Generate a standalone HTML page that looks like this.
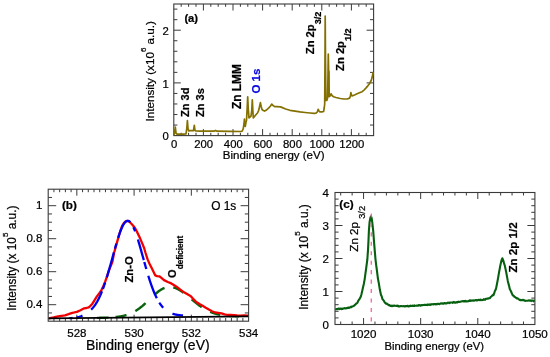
<!DOCTYPE html>
<html><head><meta charset="utf-8"><title>XPS spectra</title>
<style>
html,body{margin:0;padding:0;background:#fff;}
svg{display:block;font-family:"Liberation Sans",sans-serif;}
text{stroke:#000;stroke-width:0.22px;paint-order:stroke;}
</style></head><body>
<svg width="550" height="357" viewBox="0 0 550 357">
<rect width="550" height="357" fill="#fff"/>
<rect x="173.80" y="4.00" width="199.80" height="131.60" fill="none" stroke="#3a3a3a" stroke-width="1.1"/>
<text x="174.10" y="147.80" font-size="11.3" text-anchor="middle" font-weight="normal" fill="#000" >0</text>
<line x1="181.20" y1="135.60" x2="181.20" y2="132.80" stroke="#3a3a3a" stroke-width="1" />
<line x1="181.20" y1="4.00" x2="181.20" y2="6.80" stroke="#3a3a3a" stroke-width="1" />
<line x1="188.60" y1="135.60" x2="188.60" y2="132.80" stroke="#3a3a3a" stroke-width="1" />
<line x1="188.60" y1="4.00" x2="188.60" y2="6.80" stroke="#3a3a3a" stroke-width="1" />
<line x1="196.00" y1="135.60" x2="196.00" y2="132.80" stroke="#3a3a3a" stroke-width="1" />
<line x1="196.00" y1="4.00" x2="196.00" y2="6.80" stroke="#3a3a3a" stroke-width="1" />
<line x1="203.40" y1="135.60" x2="203.40" y2="129.10" stroke="#3a3a3a" stroke-width="1" />
<line x1="203.40" y1="4.00" x2="203.40" y2="10.50" stroke="#3a3a3a" stroke-width="1" />
<text x="203.70" y="147.80" font-size="11.3" text-anchor="middle" font-weight="normal" fill="#000" >200</text>
<line x1="210.80" y1="135.60" x2="210.80" y2="132.80" stroke="#3a3a3a" stroke-width="1" />
<line x1="210.80" y1="4.00" x2="210.80" y2="6.80" stroke="#3a3a3a" stroke-width="1" />
<line x1="218.20" y1="135.60" x2="218.20" y2="132.80" stroke="#3a3a3a" stroke-width="1" />
<line x1="218.20" y1="4.00" x2="218.20" y2="6.80" stroke="#3a3a3a" stroke-width="1" />
<line x1="225.60" y1="135.60" x2="225.60" y2="132.80" stroke="#3a3a3a" stroke-width="1" />
<line x1="225.60" y1="4.00" x2="225.60" y2="6.80" stroke="#3a3a3a" stroke-width="1" />
<line x1="233.00" y1="135.60" x2="233.00" y2="129.10" stroke="#3a3a3a" stroke-width="1" />
<line x1="233.00" y1="4.00" x2="233.00" y2="10.50" stroke="#3a3a3a" stroke-width="1" />
<text x="233.30" y="147.80" font-size="11.3" text-anchor="middle" font-weight="normal" fill="#000" >400</text>
<line x1="240.40" y1="135.60" x2="240.40" y2="132.80" stroke="#3a3a3a" stroke-width="1" />
<line x1="240.40" y1="4.00" x2="240.40" y2="6.80" stroke="#3a3a3a" stroke-width="1" />
<line x1="247.80" y1="135.60" x2="247.80" y2="132.80" stroke="#3a3a3a" stroke-width="1" />
<line x1="247.80" y1="4.00" x2="247.80" y2="6.80" stroke="#3a3a3a" stroke-width="1" />
<line x1="255.20" y1="135.60" x2="255.20" y2="132.80" stroke="#3a3a3a" stroke-width="1" />
<line x1="255.20" y1="4.00" x2="255.20" y2="6.80" stroke="#3a3a3a" stroke-width="1" />
<line x1="262.60" y1="135.60" x2="262.60" y2="129.10" stroke="#3a3a3a" stroke-width="1" />
<line x1="262.60" y1="4.00" x2="262.60" y2="10.50" stroke="#3a3a3a" stroke-width="1" />
<text x="262.90" y="147.80" font-size="11.3" text-anchor="middle" font-weight="normal" fill="#000" >600</text>
<line x1="270.00" y1="135.60" x2="270.00" y2="132.80" stroke="#3a3a3a" stroke-width="1" />
<line x1="270.00" y1="4.00" x2="270.00" y2="6.80" stroke="#3a3a3a" stroke-width="1" />
<line x1="277.40" y1="135.60" x2="277.40" y2="132.80" stroke="#3a3a3a" stroke-width="1" />
<line x1="277.40" y1="4.00" x2="277.40" y2="6.80" stroke="#3a3a3a" stroke-width="1" />
<line x1="284.80" y1="135.60" x2="284.80" y2="132.80" stroke="#3a3a3a" stroke-width="1" />
<line x1="284.80" y1="4.00" x2="284.80" y2="6.80" stroke="#3a3a3a" stroke-width="1" />
<line x1="292.20" y1="135.60" x2="292.20" y2="129.10" stroke="#3a3a3a" stroke-width="1" />
<line x1="292.20" y1="4.00" x2="292.20" y2="10.50" stroke="#3a3a3a" stroke-width="1" />
<text x="292.50" y="147.80" font-size="11.3" text-anchor="middle" font-weight="normal" fill="#000" >800</text>
<line x1="299.60" y1="135.60" x2="299.60" y2="132.80" stroke="#3a3a3a" stroke-width="1" />
<line x1="299.60" y1="4.00" x2="299.60" y2="6.80" stroke="#3a3a3a" stroke-width="1" />
<line x1="307.00" y1="135.60" x2="307.00" y2="132.80" stroke="#3a3a3a" stroke-width="1" />
<line x1="307.00" y1="4.00" x2="307.00" y2="6.80" stroke="#3a3a3a" stroke-width="1" />
<line x1="314.40" y1="135.60" x2="314.40" y2="132.80" stroke="#3a3a3a" stroke-width="1" />
<line x1="314.40" y1="4.00" x2="314.40" y2="6.80" stroke="#3a3a3a" stroke-width="1" />
<line x1="321.80" y1="135.60" x2="321.80" y2="129.10" stroke="#3a3a3a" stroke-width="1" />
<line x1="321.80" y1="4.00" x2="321.80" y2="10.50" stroke="#3a3a3a" stroke-width="1" />
<text x="322.10" y="147.80" font-size="11.3" text-anchor="middle" font-weight="normal" fill="#000" >1000</text>
<line x1="329.20" y1="135.60" x2="329.20" y2="132.80" stroke="#3a3a3a" stroke-width="1" />
<line x1="329.20" y1="4.00" x2="329.20" y2="6.80" stroke="#3a3a3a" stroke-width="1" />
<line x1="336.60" y1="135.60" x2="336.60" y2="132.80" stroke="#3a3a3a" stroke-width="1" />
<line x1="336.60" y1="4.00" x2="336.60" y2="6.80" stroke="#3a3a3a" stroke-width="1" />
<line x1="344.00" y1="135.60" x2="344.00" y2="132.80" stroke="#3a3a3a" stroke-width="1" />
<line x1="344.00" y1="4.00" x2="344.00" y2="6.80" stroke="#3a3a3a" stroke-width="1" />
<line x1="351.40" y1="135.60" x2="351.40" y2="129.10" stroke="#3a3a3a" stroke-width="1" />
<line x1="351.40" y1="4.00" x2="351.40" y2="10.50" stroke="#3a3a3a" stroke-width="1" />
<text x="351.70" y="147.80" font-size="11.3" text-anchor="middle" font-weight="normal" fill="#000" >1200</text>
<line x1="358.80" y1="135.60" x2="358.80" y2="132.80" stroke="#3a3a3a" stroke-width="1" />
<line x1="358.80" y1="4.00" x2="358.80" y2="6.80" stroke="#3a3a3a" stroke-width="1" />
<line x1="366.20" y1="135.60" x2="366.20" y2="132.80" stroke="#3a3a3a" stroke-width="1" />
<line x1="366.20" y1="4.00" x2="366.20" y2="6.80" stroke="#3a3a3a" stroke-width="1" />
<text x="168.80" y="140.20" font-size="11.3" text-anchor="end" font-weight="normal" fill="#000" >0</text>
<line x1="173.80" y1="125.06" x2="177.40" y2="125.06" stroke="#3a3a3a" stroke-width="1" />
<line x1="373.60" y1="125.06" x2="370.00" y2="125.06" stroke="#3a3a3a" stroke-width="1" />
<line x1="173.80" y1="114.52" x2="177.40" y2="114.52" stroke="#3a3a3a" stroke-width="1" />
<line x1="373.60" y1="114.52" x2="370.00" y2="114.52" stroke="#3a3a3a" stroke-width="1" />
<line x1="173.80" y1="103.98" x2="177.40" y2="103.98" stroke="#3a3a3a" stroke-width="1" />
<line x1="373.60" y1="103.98" x2="370.00" y2="103.98" stroke="#3a3a3a" stroke-width="1" />
<line x1="173.80" y1="93.44" x2="177.40" y2="93.44" stroke="#3a3a3a" stroke-width="1" />
<line x1="373.60" y1="93.44" x2="370.00" y2="93.44" stroke="#3a3a3a" stroke-width="1" />
<line x1="173.80" y1="82.90" x2="180.80" y2="82.90" stroke="#3a3a3a" stroke-width="1" />
<line x1="373.60" y1="82.90" x2="366.60" y2="82.90" stroke="#3a3a3a" stroke-width="1" />
<text x="168.80" y="87.50" font-size="11.3" text-anchor="end" font-weight="normal" fill="#000" >1</text>
<line x1="173.80" y1="72.36" x2="177.40" y2="72.36" stroke="#3a3a3a" stroke-width="1" />
<line x1="373.60" y1="72.36" x2="370.00" y2="72.36" stroke="#3a3a3a" stroke-width="1" />
<line x1="173.80" y1="61.82" x2="177.40" y2="61.82" stroke="#3a3a3a" stroke-width="1" />
<line x1="373.60" y1="61.82" x2="370.00" y2="61.82" stroke="#3a3a3a" stroke-width="1" />
<line x1="173.80" y1="51.28" x2="177.40" y2="51.28" stroke="#3a3a3a" stroke-width="1" />
<line x1="373.60" y1="51.28" x2="370.00" y2="51.28" stroke="#3a3a3a" stroke-width="1" />
<line x1="173.80" y1="40.74" x2="177.40" y2="40.74" stroke="#3a3a3a" stroke-width="1" />
<line x1="373.60" y1="40.74" x2="370.00" y2="40.74" stroke="#3a3a3a" stroke-width="1" />
<line x1="173.80" y1="30.20" x2="180.80" y2="30.20" stroke="#3a3a3a" stroke-width="1" />
<line x1="373.60" y1="30.20" x2="366.60" y2="30.20" stroke="#3a3a3a" stroke-width="1" />
<text x="168.80" y="34.80" font-size="11.3" text-anchor="end" font-weight="normal" fill="#000" >2</text>
<line x1="173.80" y1="19.66" x2="177.40" y2="19.66" stroke="#3a3a3a" stroke-width="1" />
<line x1="373.60" y1="19.66" x2="370.00" y2="19.66" stroke="#3a3a3a" stroke-width="1" />
<line x1="173.80" y1="9.12" x2="177.40" y2="9.12" stroke="#3a3a3a" stroke-width="1" />
<line x1="373.60" y1="9.12" x2="370.00" y2="9.12" stroke="#3a3a3a" stroke-width="1" />
<text x="273.70" y="158.50" font-size="11.5" text-anchor="middle" font-weight="normal" fill="#000" >Binding energy (eV)</text>
<text transform="translate(153.6,121.6) rotate(-90)" font-size="11.7" fill="#000">Intensity (x10<tspan dy="-8" font-size="8">6</tspan><tspan dy="8"> a.u.)</tspan></text>
<text x="184.40" y="22.30" font-size="11.2" text-anchor="start" font-weight="bold" fill="#000" >(a)</text>
<path d="M173.70,135.20 L174.50,133.50 L175.30,127.20 L176.00,133.00 L177.00,134.20 L180.00,134.10 L183.00,134.20 L186.00,133.80 L186.80,128.50 L187.40,120.50 L188.00,128.50 L188.80,130.90 L190.00,130.60 L193.50,130.70 L194.30,125.30 L195.00,130.50 L196.00,131.00 L200.00,131.10 L210.00,131.20 L214.00,131.20 L215.50,130.40 L217.00,131.20 L230.00,131.40 L241.00,131.50 L242.30,131.00 L243.20,128.80 L244.00,124.00 L244.40,119.00 L245.00,124.00 L245.30,126.30 L246.00,122.00 L246.50,120.40 L247.20,108.00 L247.70,96.80 L248.20,108.00 L249.00,117.90 L250.00,117.00 L251.00,116.20 L251.80,110.00 L252.30,99.90 L252.80,110.00 L253.30,117.90 L254.50,116.50 L256.10,114.50 L257.50,113.00 L258.70,110.30 L259.70,106.00 L260.40,102.70 L261.20,106.50 L262.00,109.50 L263.30,110.50 L264.60,111.10 L266.50,110.00 L268.80,107.80 L270.50,106.00 L271.80,104.10 L273.00,105.50 L274.70,106.60 L277.00,106.60 L280.60,106.90 L285.60,109.00 L290.00,110.30 L295.00,111.10 L300.00,111.90 L305.00,112.50 L310.10,113.00 L314.00,113.30 L316.00,113.20 L317.30,112.00 L318.20,109.40 L319.00,111.00 L319.90,111.90 L322.00,111.80 L323.60,111.50 L324.20,108.00 L324.70,104.00 L325.00,60.00 L325.20,16.00 L325.50,60.00 L325.90,100.50 L326.80,100.50 L327.60,98.00 L328.00,75.00 L328.30,54.20 L328.60,70.00 L329.00,72.00 L329.20,96.60 L330.00,96.00 L331.00,93.80 L332.00,95.50 L333.60,96.80 L336.00,97.50 L340.30,98.50 L344.00,99.00 L347.00,99.00 L349.60,98.10 L350.40,96.00 L350.90,92.60 L351.50,95.50 L352.10,95.90 L354.50,95.00 L357.10,93.80 L359.50,92.80 L362.10,91.70 L364.30,89.80 L366.30,87.60 L368.00,85.60 L369.70,83.40 L371.40,80.00 L372.40,76.00 L373.20,72.30" fill="none" stroke="#847000" stroke-width="1.7" stroke-linejoin="round" stroke-linecap="butt" />
<text transform="translate(188.80,116.90) rotate(-90)" font-size="11" font-weight="bold" fill="#000">Zn 3d</text>
<text transform="translate(204.10,116.90) rotate(-90)" font-size="11" font-weight="bold" fill="#000">Zn 3s</text>
<text transform="translate(241.00,109.00) rotate(-90)" font-size="11.9" font-weight="bold" fill="#000">Zn LMM</text>
<text transform="translate(259.80,93.60) rotate(-90)" font-size="11.5" font-weight="bold" fill="#0808e0" style="stroke:#0808e0">O 1s</text>
<text transform="translate(314.40,54.20) rotate(-90)" font-size="11.2" font-weight="bold" fill="#000">Zn 2p<tspan dy="6.8" font-size="9.2">3/2</tspan></text>
<text transform="translate(344.00,70.90) rotate(-90)" font-size="11.2" font-weight="bold" fill="#000">Zn 2p<tspan dy="7" font-size="9.2">1/2</tspan></text>
<line x1="53.93" y1="189.20" x2="53.93" y2="192.20" stroke="#3a3a3a" stroke-width="1" />
<line x1="53.93" y1="321.20" x2="53.93" y2="318.00" stroke="#3a3a3a" stroke-width="1" />
<line x1="59.65" y1="189.20" x2="59.65" y2="192.20" stroke="#3a3a3a" stroke-width="1" />
<line x1="59.65" y1="321.20" x2="59.65" y2="318.00" stroke="#3a3a3a" stroke-width="1" />
<line x1="65.38" y1="189.20" x2="65.38" y2="192.20" stroke="#3a3a3a" stroke-width="1" />
<line x1="65.38" y1="321.20" x2="65.38" y2="318.00" stroke="#3a3a3a" stroke-width="1" />
<line x1="71.10" y1="189.20" x2="71.10" y2="192.20" stroke="#3a3a3a" stroke-width="1" />
<line x1="71.10" y1="321.20" x2="71.10" y2="318.00" stroke="#3a3a3a" stroke-width="1" />
<line x1="76.83" y1="189.20" x2="76.83" y2="195.70" stroke="#3a3a3a" stroke-width="1" />
<line x1="76.83" y1="321.20" x2="76.83" y2="314.70" stroke="#3a3a3a" stroke-width="1" />
<text x="76.83" y="336.70" font-size="11.5" text-anchor="middle" font-weight="normal" fill="#000" >528</text>
<line x1="82.55" y1="189.20" x2="82.55" y2="192.20" stroke="#3a3a3a" stroke-width="1" />
<line x1="82.55" y1="321.20" x2="82.55" y2="318.00" stroke="#3a3a3a" stroke-width="1" />
<line x1="88.28" y1="189.20" x2="88.28" y2="192.20" stroke="#3a3a3a" stroke-width="1" />
<line x1="88.28" y1="321.20" x2="88.28" y2="318.00" stroke="#3a3a3a" stroke-width="1" />
<line x1="94.01" y1="189.20" x2="94.01" y2="192.20" stroke="#3a3a3a" stroke-width="1" />
<line x1="94.01" y1="321.20" x2="94.01" y2="318.00" stroke="#3a3a3a" stroke-width="1" />
<line x1="99.73" y1="189.20" x2="99.73" y2="192.20" stroke="#3a3a3a" stroke-width="1" />
<line x1="99.73" y1="321.20" x2="99.73" y2="318.00" stroke="#3a3a3a" stroke-width="1" />
<line x1="105.46" y1="189.20" x2="105.46" y2="192.20" stroke="#3a3a3a" stroke-width="1" />
<line x1="105.46" y1="321.20" x2="105.46" y2="318.00" stroke="#3a3a3a" stroke-width="1" />
<line x1="111.18" y1="189.20" x2="111.18" y2="192.20" stroke="#3a3a3a" stroke-width="1" />
<line x1="111.18" y1="321.20" x2="111.18" y2="318.00" stroke="#3a3a3a" stroke-width="1" />
<line x1="116.91" y1="189.20" x2="116.91" y2="192.20" stroke="#3a3a3a" stroke-width="1" />
<line x1="116.91" y1="321.20" x2="116.91" y2="318.00" stroke="#3a3a3a" stroke-width="1" />
<line x1="122.63" y1="189.20" x2="122.63" y2="192.20" stroke="#3a3a3a" stroke-width="1" />
<line x1="122.63" y1="321.20" x2="122.63" y2="318.00" stroke="#3a3a3a" stroke-width="1" />
<line x1="128.36" y1="189.20" x2="128.36" y2="192.20" stroke="#3a3a3a" stroke-width="1" />
<line x1="128.36" y1="321.20" x2="128.36" y2="318.00" stroke="#3a3a3a" stroke-width="1" />
<line x1="134.09" y1="189.20" x2="134.09" y2="195.70" stroke="#3a3a3a" stroke-width="1" />
<line x1="134.09" y1="321.20" x2="134.09" y2="314.70" stroke="#3a3a3a" stroke-width="1" />
<text x="134.09" y="336.70" font-size="11.5" text-anchor="middle" font-weight="normal" fill="#000" >530</text>
<line x1="139.81" y1="189.20" x2="139.81" y2="192.20" stroke="#3a3a3a" stroke-width="1" />
<line x1="139.81" y1="321.20" x2="139.81" y2="318.00" stroke="#3a3a3a" stroke-width="1" />
<line x1="145.54" y1="189.20" x2="145.54" y2="192.20" stroke="#3a3a3a" stroke-width="1" />
<line x1="145.54" y1="321.20" x2="145.54" y2="318.00" stroke="#3a3a3a" stroke-width="1" />
<line x1="151.26" y1="189.20" x2="151.26" y2="192.20" stroke="#3a3a3a" stroke-width="1" />
<line x1="151.26" y1="321.20" x2="151.26" y2="318.00" stroke="#3a3a3a" stroke-width="1" />
<line x1="156.99" y1="189.20" x2="156.99" y2="192.20" stroke="#3a3a3a" stroke-width="1" />
<line x1="156.99" y1="321.20" x2="156.99" y2="318.00" stroke="#3a3a3a" stroke-width="1" />
<line x1="162.71" y1="189.20" x2="162.71" y2="192.20" stroke="#3a3a3a" stroke-width="1" />
<line x1="162.71" y1="321.20" x2="162.71" y2="318.00" stroke="#3a3a3a" stroke-width="1" />
<line x1="168.44" y1="189.20" x2="168.44" y2="192.20" stroke="#3a3a3a" stroke-width="1" />
<line x1="168.44" y1="321.20" x2="168.44" y2="318.00" stroke="#3a3a3a" stroke-width="1" />
<line x1="174.17" y1="189.20" x2="174.17" y2="192.20" stroke="#3a3a3a" stroke-width="1" />
<line x1="174.17" y1="321.20" x2="174.17" y2="318.00" stroke="#3a3a3a" stroke-width="1" />
<line x1="179.89" y1="189.20" x2="179.89" y2="192.20" stroke="#3a3a3a" stroke-width="1" />
<line x1="179.89" y1="321.20" x2="179.89" y2="318.00" stroke="#3a3a3a" stroke-width="1" />
<line x1="185.62" y1="189.20" x2="185.62" y2="192.20" stroke="#3a3a3a" stroke-width="1" />
<line x1="185.62" y1="321.20" x2="185.62" y2="318.00" stroke="#3a3a3a" stroke-width="1" />
<line x1="191.34" y1="189.20" x2="191.34" y2="195.70" stroke="#3a3a3a" stroke-width="1" />
<line x1="191.34" y1="321.20" x2="191.34" y2="314.70" stroke="#3a3a3a" stroke-width="1" />
<text x="191.34" y="336.70" font-size="11.5" text-anchor="middle" font-weight="normal" fill="#000" >532</text>
<line x1="197.07" y1="189.20" x2="197.07" y2="192.20" stroke="#3a3a3a" stroke-width="1" />
<line x1="197.07" y1="321.20" x2="197.07" y2="318.00" stroke="#3a3a3a" stroke-width="1" />
<line x1="202.79" y1="189.20" x2="202.79" y2="192.20" stroke="#3a3a3a" stroke-width="1" />
<line x1="202.79" y1="321.20" x2="202.79" y2="318.00" stroke="#3a3a3a" stroke-width="1" />
<line x1="208.52" y1="189.20" x2="208.52" y2="192.20" stroke="#3a3a3a" stroke-width="1" />
<line x1="208.52" y1="321.20" x2="208.52" y2="318.00" stroke="#3a3a3a" stroke-width="1" />
<line x1="214.25" y1="189.20" x2="214.25" y2="192.20" stroke="#3a3a3a" stroke-width="1" />
<line x1="214.25" y1="321.20" x2="214.25" y2="318.00" stroke="#3a3a3a" stroke-width="1" />
<line x1="219.97" y1="189.20" x2="219.97" y2="192.20" stroke="#3a3a3a" stroke-width="1" />
<line x1="219.97" y1="321.20" x2="219.97" y2="318.00" stroke="#3a3a3a" stroke-width="1" />
<line x1="225.70" y1="189.20" x2="225.70" y2="192.20" stroke="#3a3a3a" stroke-width="1" />
<line x1="225.70" y1="321.20" x2="225.70" y2="318.00" stroke="#3a3a3a" stroke-width="1" />
<line x1="231.42" y1="189.20" x2="231.42" y2="192.20" stroke="#3a3a3a" stroke-width="1" />
<line x1="231.42" y1="321.20" x2="231.42" y2="318.00" stroke="#3a3a3a" stroke-width="1" />
<line x1="237.15" y1="189.20" x2="237.15" y2="192.20" stroke="#3a3a3a" stroke-width="1" />
<line x1="237.15" y1="321.20" x2="237.15" y2="318.00" stroke="#3a3a3a" stroke-width="1" />
<line x1="242.87" y1="189.20" x2="242.87" y2="192.20" stroke="#3a3a3a" stroke-width="1" />
<line x1="242.87" y1="321.20" x2="242.87" y2="318.00" stroke="#3a3a3a" stroke-width="1" />
<text x="248.60" y="336.70" font-size="11.5" text-anchor="middle" font-weight="normal" fill="#000" >534</text>
<line x1="48.20" y1="312.95" x2="52.00" y2="312.95" stroke="#3a3a3a" stroke-width="1" />
<line x1="248.60" y1="312.95" x2="244.80" y2="312.95" stroke="#3a3a3a" stroke-width="1" />
<line x1="48.20" y1="304.70" x2="56.20" y2="304.70" stroke="#3a3a3a" stroke-width="1" />
<line x1="248.60" y1="304.70" x2="240.60" y2="304.70" stroke="#3a3a3a" stroke-width="1" />
<text x="42.40" y="308.40" font-size="11.5" text-anchor="end" font-weight="normal" fill="#000" >0.4</text>
<line x1="48.20" y1="296.45" x2="52.00" y2="296.45" stroke="#3a3a3a" stroke-width="1" />
<line x1="248.60" y1="296.45" x2="244.80" y2="296.45" stroke="#3a3a3a" stroke-width="1" />
<line x1="48.20" y1="288.20" x2="52.00" y2="288.20" stroke="#3a3a3a" stroke-width="1" />
<line x1="248.60" y1="288.20" x2="244.80" y2="288.20" stroke="#3a3a3a" stroke-width="1" />
<line x1="48.20" y1="279.95" x2="52.00" y2="279.95" stroke="#3a3a3a" stroke-width="1" />
<line x1="248.60" y1="279.95" x2="244.80" y2="279.95" stroke="#3a3a3a" stroke-width="1" />
<line x1="48.20" y1="271.70" x2="56.20" y2="271.70" stroke="#3a3a3a" stroke-width="1" />
<line x1="248.60" y1="271.70" x2="240.60" y2="271.70" stroke="#3a3a3a" stroke-width="1" />
<text x="42.40" y="275.40" font-size="11.5" text-anchor="end" font-weight="normal" fill="#000" >0.6</text>
<line x1="48.20" y1="263.45" x2="52.00" y2="263.45" stroke="#3a3a3a" stroke-width="1" />
<line x1="248.60" y1="263.45" x2="244.80" y2="263.45" stroke="#3a3a3a" stroke-width="1" />
<line x1="48.20" y1="255.20" x2="52.00" y2="255.20" stroke="#3a3a3a" stroke-width="1" />
<line x1="248.60" y1="255.20" x2="244.80" y2="255.20" stroke="#3a3a3a" stroke-width="1" />
<line x1="48.20" y1="246.95" x2="52.00" y2="246.95" stroke="#3a3a3a" stroke-width="1" />
<line x1="248.60" y1="246.95" x2="244.80" y2="246.95" stroke="#3a3a3a" stroke-width="1" />
<line x1="48.20" y1="238.70" x2="56.20" y2="238.70" stroke="#3a3a3a" stroke-width="1" />
<line x1="248.60" y1="238.70" x2="240.60" y2="238.70" stroke="#3a3a3a" stroke-width="1" />
<text x="42.40" y="242.40" font-size="11.5" text-anchor="end" font-weight="normal" fill="#000" >0.8</text>
<line x1="48.20" y1="230.45" x2="52.00" y2="230.45" stroke="#3a3a3a" stroke-width="1" />
<line x1="248.60" y1="230.45" x2="244.80" y2="230.45" stroke="#3a3a3a" stroke-width="1" />
<line x1="48.20" y1="222.20" x2="52.00" y2="222.20" stroke="#3a3a3a" stroke-width="1" />
<line x1="248.60" y1="222.20" x2="244.80" y2="222.20" stroke="#3a3a3a" stroke-width="1" />
<line x1="48.20" y1="213.95" x2="52.00" y2="213.95" stroke="#3a3a3a" stroke-width="1" />
<line x1="248.60" y1="213.95" x2="244.80" y2="213.95" stroke="#3a3a3a" stroke-width="1" />
<line x1="48.20" y1="205.70" x2="56.20" y2="205.70" stroke="#3a3a3a" stroke-width="1" />
<line x1="248.60" y1="205.70" x2="240.60" y2="205.70" stroke="#3a3a3a" stroke-width="1" />
<text x="42.40" y="209.40" font-size="11.5" text-anchor="end" font-weight="normal" fill="#000" >1</text>
<line x1="48.20" y1="197.45" x2="52.00" y2="197.45" stroke="#3a3a3a" stroke-width="1" />
<line x1="248.60" y1="197.45" x2="244.80" y2="197.45" stroke="#3a3a3a" stroke-width="1" />
<text x="147.80" y="350.20" font-size="14" text-anchor="middle" font-weight="normal" fill="#000" >Binding energy (eV)</text>
<text transform="translate(15.7,310.8) rotate(-90)" font-size="11.85" fill="#000">Intensity (x 10<tspan dy="-7.5" font-size="8">5</tspan><tspan dy="7.5"> a.u.)</tspan></text>
<text x="61.90" y="208.80" font-size="11.7" text-anchor="start" font-weight="bold" fill="#000" >(b)</text>
<text x="211.20" y="209.60" font-size="11.9" text-anchor="start" font-weight="normal" fill="#000" >O 1s</text>
<path d="M97.00,317.86 L97.30,317.86 L97.61,317.85 L97.91,317.85 L98.21,317.84 L98.51,317.84 L98.82,317.83 L99.12,317.83 L99.42,317.82 L99.72,317.81 L100.03,317.81 L100.33,317.80 L100.63,317.80 L100.93,317.79 L101.24,317.78 L101.54,317.78 L101.84,317.77 L102.14,317.76 L102.45,317.76 L102.75,317.75 L103.05,317.74 L103.36,317.73 L103.66,317.72 L103.96,317.72 L104.26,317.71 L104.57,317.70 L104.87,317.69 L105.17,317.68 L105.47,317.67 L105.78,317.66 L106.08,317.65 L106.38,317.64 L106.68,317.63 L106.99,317.62 L107.29,317.61 L107.59,317.59 L107.89,317.58 L108.20,317.57 L108.50,317.55 M115.60,317.06 L115.90,317.03 L116.21,316.99 L116.51,316.96 L116.81,316.93 L117.11,316.89 L117.42,316.85 L117.72,316.81 L118.02,316.78 L118.32,316.73 L118.63,316.69 L118.93,316.65 L119.23,316.60 L119.54,316.56 L119.84,316.51 L120.14,316.46 L120.44,316.41 L120.75,316.35 L121.05,316.30 L121.35,316.24 L121.66,316.18 L121.96,316.12 L122.26,316.06 L122.56,316.00 L122.87,315.93 L123.17,315.87 L123.47,315.80 L123.78,315.73 L124.08,315.65 L124.38,315.58 L124.68,315.50 L124.99,315.42 L125.29,315.33 L125.59,315.25 L125.89,315.16 L126.20,315.07 L126.50,314.98 M135.30,311.06 L135.60,310.88 L135.91,310.70 L136.21,310.51 L136.51,310.32 L136.81,310.12 L137.12,309.92 L137.42,309.72 L137.72,309.52 L138.03,309.31 L138.33,309.10 L138.63,308.88 L138.94,308.66 L139.24,308.44 L139.54,308.22 L139.84,307.99 L140.15,307.76 L140.45,307.53 L140.75,307.29 L141.06,307.05 L141.36,306.81 L141.66,306.56 L141.96,306.31 L142.27,306.06 L142.57,305.81 L142.87,305.55 L143.18,305.30 L143.48,305.03 L143.78,304.77 L144.09,304.50 L144.39,304.24 L144.69,303.97 L144.99,303.69 L145.30,303.42 L145.60,303.14 M154.40,294.86 L154.71,294.58 L155.01,294.31 L155.32,294.04 L155.62,293.77 L155.93,293.50 L156.24,293.24 L156.54,292.98 L156.85,292.73 L157.15,292.47 L157.46,292.23 L157.77,291.98 L158.07,291.74 L158.38,291.51 L158.68,291.28 L158.99,291.05 L159.30,290.83 L159.60,290.61 L159.91,290.40 L160.22,290.19 L160.52,289.99 L160.83,289.79 L161.13,289.60 L161.44,289.42 L161.75,289.24 L162.05,289.06 L162.36,288.90 L162.66,288.73 L162.97,288.58 L163.28,288.43 L163.58,288.29 L163.89,288.15 L164.19,288.02 L164.50,287.90 M173.30,287.42 L173.61,287.50 L173.91,287.58 L174.22,287.67 L174.52,287.77 L174.83,287.87 L175.14,287.98 L175.44,288.09 L175.75,288.21 L176.05,288.33 L176.36,288.46 L176.67,288.59 L176.97,288.73 L177.28,288.88 L177.58,289.03 L177.89,289.18 L178.20,289.34 L178.50,289.50 L178.81,289.67 L179.12,289.84 L179.42,290.02 L179.73,290.20 L180.03,290.39 L180.34,290.58 L180.65,290.77 L180.95,290.97 L181.26,291.17 L181.56,291.38 L181.87,291.58 L182.18,291.80 L182.48,292.01 L182.79,292.23 L183.09,292.45 L183.40,292.67 M191.60,299.34 L191.91,299.60 L192.21,299.86 L192.52,300.11 L192.82,300.37 L193.13,300.63 L193.44,300.88 L193.74,301.13 L194.05,301.39 L194.35,301.64 L194.66,301.89 L194.97,302.14 L195.27,302.39 L195.58,302.64 L195.88,302.88 L196.19,303.13 L196.50,303.37 L196.80,303.61 L197.11,303.85 L197.42,304.08 L197.72,304.32 L198.03,304.55 L198.33,304.78 L198.64,305.01 L198.95,305.24 L199.25,305.46 L199.56,305.69 L199.86,305.91 L200.17,306.13 L200.48,306.34 L200.78,306.55 L201.09,306.77 L201.39,306.97 L201.70,307.18 M210.20,311.83 L210.50,311.96 L210.81,312.08 L211.11,312.20 L211.41,312.32 L211.72,312.44 L212.02,312.56 L212.32,312.67 L212.62,312.78 L212.93,312.88 L213.23,312.99 L213.53,313.09 L213.84,313.19 L214.14,313.29 L214.44,313.39 L214.75,313.48 L215.05,313.57 L215.35,313.66 L215.65,313.75 L215.96,313.83 L216.26,313.91 L216.56,313.99 L216.87,314.07 L217.17,314.15 L217.47,314.22 L217.78,314.29 L218.08,314.36 L218.38,314.43 L218.68,314.50 L218.99,314.56 L219.29,314.63 L219.59,314.69 L219.90,314.75 L220.20,314.81 M229.00,315.89 L229.30,315.91 L229.61,315.93 L229.91,315.95 L230.21,315.96 L230.52,315.98 L230.82,316.00 L231.12,316.02 L231.42,316.03 L231.73,316.05 L232.03,316.06 L232.33,316.07 L232.64,316.09 L232.94,316.10 L233.24,316.11 L233.55,316.12 L233.85,316.13 L234.15,316.14 L234.45,316.15 L234.76,316.16 L235.06,316.17 L235.36,316.18 L235.67,316.19 L235.97,316.20 L236.27,316.20 L236.58,316.21 L236.88,316.22 L237.18,316.22 L237.48,316.23 L237.79,316.23 L238.09,316.24 L238.39,316.24 L238.70,316.25 L239.00,316.25" fill="none" stroke="#0a640f" stroke-width="2.4" stroke-linejoin="round"/>
<path d="M48.80,318.30 L53.60,317.40 L58.20,316.40 L61.50,315.90 L65.00,315.40 L68.50,314.20 L72.30,312.80 L74.50,312.40 L76.90,311.90 L80.50,310.20 L84.20,308.30 L86.50,308.00 L88.70,307.40 L90.50,305.80 L92.40,303.70 L94.60,300.20 L96.90,296.40 L99.20,293.40 L101.50,290.10 L103.30,286.20 L105.10,281.90 L107.00,276.50 L108.80,270.90 L110.60,266.20 L112.40,261.80 L114.10,252.80 L116.40,244.50 L118.70,236.40 L120.50,230.50 L122.30,225.50 L123.70,223.30 L125.10,221.80 L126.40,221.10 L127.80,220.90 L129.50,221.70 L131.40,223.70 L133.20,225.70 L135.10,228.20 L137.30,232.40 L139.60,237.30 L141.90,242.60 L144.20,248.30 L145.40,252.50 L146.20,255.00 L147.60,259.40 L149.50,263.70 L151.70,268.10 L153.50,271.80 L155.30,275.40 L157.10,276.10 L159.30,276.30 L161.10,277.60 L164.00,280.10 L167.80,282.00 L171.30,283.40 L173.80,284.90 L176.20,286.40 L180.00,289.30 L184.00,292.30 L187.50,294.30 L190.90,296.20 L193.40,299.20 L196.30,302.00 L199.50,304.00 L202.60,305.80 L205.80,307.80 L208.90,309.60 L212.00,311.20 L215.20,312.50 L218.30,312.90 L221.50,313.30 L224.60,314.30 L227.80,315.00 L231.00,315.00 L234.00,315.20 L237.00,315.50 L240.40,315.60 L244.00,315.50 L248.30,315.60" fill="none" stroke="#f00000" stroke-width="2.3" stroke-linejoin="round" stroke-linecap="butt" />
<path d="M69.50,318.19 L69.80,318.17 L70.10,318.15 L70.40,318.12 L70.70,318.10 L71.00,318.08 L71.30,318.05 L71.60,318.03 L71.90,318.00 L72.20,317.98 L72.50,317.95 M76.50,317.47 L76.80,317.43 L77.10,317.38 L77.40,317.33 L77.70,317.28 L78.00,317.22 L78.30,317.17 L78.60,317.08 L78.90,316.98 L79.20,316.89 L79.50,316.79 L79.80,316.69 L80.10,316.58 L80.40,316.48 L80.70,316.37 L81.00,316.25 L81.30,316.14 L81.60,316.02 L81.90,315.89 L82.20,315.77 L82.50,315.64 M91.10,309.67 L91.40,309.37 L91.71,309.07 L92.01,308.75 L92.31,308.43 L92.61,308.09 L92.92,307.74 L93.22,307.39 L93.52,307.02 L93.82,306.64 L94.13,306.24 L94.43,305.84 L94.73,305.42 L95.04,304.99 L95.34,304.55 L95.64,304.09 L95.94,303.63 L96.25,303.14 L96.55,302.65 L96.85,302.14 L97.16,301.62 L97.46,301.08 L97.76,300.53 L98.06,299.97 L98.37,299.39 L98.67,298.79 L98.97,298.19 L99.28,297.56 L99.58,296.92 L99.88,296.27 L100.18,295.60 L100.49,294.92 L100.79,294.22 L101.09,293.51 L101.39,292.78 L101.70,292.04 L102.00,291.28 M102.90,288.95 L103.21,288.10 L103.53,287.24 L103.84,286.36 L104.16,285.46 L104.47,284.56 L104.79,283.63 L105.10,282.69 M106.80,277.38 L107.11,276.38 L107.42,275.36 L107.73,274.33 L108.03,273.30 L108.34,272.25 L108.65,271.19 L108.96,270.12 L109.27,269.05 L109.58,267.97 L109.89,266.88 L110.20,265.78 L110.50,264.68 L110.81,263.57 L111.12,262.46 L111.43,261.35 L111.74,260.23 L112.05,259.11 L112.36,257.98 L112.67,256.86 L112.97,255.74 L113.28,254.62 L113.59,253.50 L113.90,252.38 M114.90,248.80 L115.20,247.73 L115.50,246.68 L115.80,245.63 L116.10,244.59 L116.40,243.56 M118.10,237.97 L118.40,237.03 L118.70,236.11 L119.00,235.21 L119.30,234.33 L119.60,233.47 L119.90,232.63 L120.20,231.81 L120.50,231.01 L120.80,230.24 L121.10,229.50 L121.40,228.78 L121.70,228.08 L122.00,227.41 L122.30,226.78 L122.60,226.17 L122.90,225.59 L123.20,225.04 L123.50,224.52 L123.80,224.03 L124.10,223.58 L124.40,223.16 L124.70,222.78 L125.00,222.43 L125.30,222.11 L125.60,221.83 L125.90,221.58 L126.20,221.37 L126.50,221.20 L126.80,221.06 L127.10,220.96 L127.40,220.90 L127.70,220.88 L128.00,220.89 L128.30,220.94 L128.60,221.02 L128.90,221.15 L129.20,221.30 L129.50,221.50 L129.80,221.73 L130.10,222.00 L130.40,222.30 M133.40,227.16 L133.74,227.91 L134.08,228.69 L134.42,229.50 L134.76,230.35 L135.10,231.23 M137.90,239.48 L138.21,240.49 L138.52,241.52 L138.83,242.55 L139.14,243.60 L139.45,244.66 L139.76,245.74 L140.07,246.82 L140.38,247.91 L140.69,249.00 L141.01,250.11 L141.32,251.22 L141.63,252.33 L141.94,253.45 L142.25,254.57 L142.56,255.69 L142.87,256.81 L143.18,257.93 L143.49,259.06 L143.80,260.18 M144.30,261.97 L144.63,263.17 L144.97,264.36 L145.30,265.54 L145.63,266.71 L145.97,267.88 L146.30,269.04 M148.30,275.78 L148.60,276.76 L148.91,277.73 L149.21,278.69 L149.51,279.64 L149.82,280.58 L150.12,281.50 L150.43,282.41 L150.73,283.31 L151.03,284.19 L151.34,285.06 L151.64,285.92 L151.94,286.76 L152.25,287.59 L152.55,288.40 L152.85,289.20 L153.16,289.98 L153.46,290.75 L153.76,291.50 L154.07,292.24 L154.37,292.96 L154.68,293.67 L154.98,294.36 L155.28,295.04 L155.59,295.70 L155.89,296.35 L156.19,296.98 L156.50,297.60 L156.80,298.20 M159.30,302.62 L159.62,303.13 L159.95,303.62 L160.28,304.09 L160.60,304.55 L160.93,305.00 L161.25,305.43 L161.57,305.85 L161.90,306.25 L162.22,306.64 L162.55,307.02 L162.88,307.39 L163.20,307.74 M172.50,313.71 L172.80,313.81 L173.10,313.90 L173.40,313.99 L173.70,314.07 L174.00,314.15 L174.30,314.23 L174.60,314.31 L174.90,314.38 L175.20,314.45 L175.50,314.51 L175.80,314.58 L176.10,314.64 L176.40,314.70 L176.70,314.75 L177.00,314.80 L177.30,314.85 L177.60,314.90 L177.90,314.95 L178.20,314.99 L178.50,315.04 L178.80,315.08 L179.10,315.12 L179.40,315.15 L179.70,315.19 L180.00,315.22 L180.30,315.26 L180.60,315.29 L180.90,315.32 L181.20,315.35 L181.50,315.37 L181.80,315.40 L182.10,315.42 L182.40,315.45 L182.70,315.47 L183.00,315.49" fill="none" stroke="#0000f0" stroke-width="2.3" stroke-linejoin="round"/>
<path d="M48.20,318.40 L248.60,316.30" fill="none" stroke="#000" stroke-width="1.7" stroke-linejoin="round" stroke-linecap="butt" />
<rect x="48.20" y="189.20" width="200.40" height="132.00" fill="none" stroke="#3a3a3a" stroke-width="1.1"/>
<text transform="translate(132.60,282.60) rotate(-90)" font-size="11.4" font-weight="bold" fill="#000">Zn-O</text>
<text transform="translate(176.00,277.90) rotate(-90)" font-size="11" font-weight="bold" fill="#000">O<tspan dy="7" font-size="8.2">deficient</tspan></text>
<rect x="335.00" y="192.50" width="199.90" height="132.00" fill="none" stroke="#3a3a3a" stroke-width="1.1"/>
<line x1="340.71" y1="324.50" x2="340.71" y2="321.50" stroke="#3a3a3a" stroke-width="1" />
<line x1="340.71" y1="192.50" x2="340.71" y2="195.50" stroke="#3a3a3a" stroke-width="1" />
<line x1="352.13" y1="324.50" x2="352.13" y2="321.50" stroke="#3a3a3a" stroke-width="1" />
<line x1="352.13" y1="192.50" x2="352.13" y2="195.50" stroke="#3a3a3a" stroke-width="1" />
<line x1="363.56" y1="324.50" x2="363.56" y2="318.00" stroke="#3a3a3a" stroke-width="1" />
<line x1="363.56" y1="192.50" x2="363.56" y2="199.00" stroke="#3a3a3a" stroke-width="1" />
<text x="363.56" y="338.20" font-size="11.6" text-anchor="middle" font-weight="normal" fill="#000" >1020</text>
<line x1="374.98" y1="324.50" x2="374.98" y2="321.50" stroke="#3a3a3a" stroke-width="1" />
<line x1="374.98" y1="192.50" x2="374.98" y2="195.50" stroke="#3a3a3a" stroke-width="1" />
<line x1="386.40" y1="324.50" x2="386.40" y2="321.50" stroke="#3a3a3a" stroke-width="1" />
<line x1="386.40" y1="192.50" x2="386.40" y2="195.50" stroke="#3a3a3a" stroke-width="1" />
<line x1="397.83" y1="324.50" x2="397.83" y2="321.50" stroke="#3a3a3a" stroke-width="1" />
<line x1="397.83" y1="192.50" x2="397.83" y2="195.50" stroke="#3a3a3a" stroke-width="1" />
<line x1="409.25" y1="324.50" x2="409.25" y2="321.50" stroke="#3a3a3a" stroke-width="1" />
<line x1="409.25" y1="192.50" x2="409.25" y2="195.50" stroke="#3a3a3a" stroke-width="1" />
<line x1="420.67" y1="324.50" x2="420.67" y2="318.00" stroke="#3a3a3a" stroke-width="1" />
<line x1="420.67" y1="192.50" x2="420.67" y2="199.00" stroke="#3a3a3a" stroke-width="1" />
<text x="420.67" y="338.20" font-size="11.6" text-anchor="middle" font-weight="normal" fill="#000" >1030</text>
<line x1="432.09" y1="324.50" x2="432.09" y2="321.50" stroke="#3a3a3a" stroke-width="1" />
<line x1="432.09" y1="192.50" x2="432.09" y2="195.50" stroke="#3a3a3a" stroke-width="1" />
<line x1="443.52" y1="324.50" x2="443.52" y2="321.50" stroke="#3a3a3a" stroke-width="1" />
<line x1="443.52" y1="192.50" x2="443.52" y2="195.50" stroke="#3a3a3a" stroke-width="1" />
<line x1="454.94" y1="324.50" x2="454.94" y2="321.50" stroke="#3a3a3a" stroke-width="1" />
<line x1="454.94" y1="192.50" x2="454.94" y2="195.50" stroke="#3a3a3a" stroke-width="1" />
<line x1="466.36" y1="324.50" x2="466.36" y2="321.50" stroke="#3a3a3a" stroke-width="1" />
<line x1="466.36" y1="192.50" x2="466.36" y2="195.50" stroke="#3a3a3a" stroke-width="1" />
<line x1="477.79" y1="324.50" x2="477.79" y2="318.00" stroke="#3a3a3a" stroke-width="1" />
<line x1="477.79" y1="192.50" x2="477.79" y2="199.00" stroke="#3a3a3a" stroke-width="1" />
<text x="477.79" y="338.20" font-size="11.6" text-anchor="middle" font-weight="normal" fill="#000" >1040</text>
<line x1="489.21" y1="324.50" x2="489.21" y2="321.50" stroke="#3a3a3a" stroke-width="1" />
<line x1="489.21" y1="192.50" x2="489.21" y2="195.50" stroke="#3a3a3a" stroke-width="1" />
<line x1="500.63" y1="324.50" x2="500.63" y2="321.50" stroke="#3a3a3a" stroke-width="1" />
<line x1="500.63" y1="192.50" x2="500.63" y2="195.50" stroke="#3a3a3a" stroke-width="1" />
<line x1="512.05" y1="324.50" x2="512.05" y2="321.50" stroke="#3a3a3a" stroke-width="1" />
<line x1="512.05" y1="192.50" x2="512.05" y2="195.50" stroke="#3a3a3a" stroke-width="1" />
<line x1="523.48" y1="324.50" x2="523.48" y2="321.50" stroke="#3a3a3a" stroke-width="1" />
<line x1="523.48" y1="192.50" x2="523.48" y2="195.50" stroke="#3a3a3a" stroke-width="1" />
<text x="534.90" y="338.20" font-size="11.6" text-anchor="middle" font-weight="normal" fill="#000" >1050</text>
<text x="328.90" y="328.90" font-size="11.5" text-anchor="end" font-weight="normal" fill="#000" >0</text>
<line x1="335.00" y1="317.90" x2="338.60" y2="317.90" stroke="#3a3a3a" stroke-width="1" />
<line x1="534.90" y1="317.90" x2="531.30" y2="317.90" stroke="#3a3a3a" stroke-width="1" />
<line x1="335.00" y1="311.30" x2="338.60" y2="311.30" stroke="#3a3a3a" stroke-width="1" />
<line x1="534.90" y1="311.30" x2="531.30" y2="311.30" stroke="#3a3a3a" stroke-width="1" />
<line x1="335.00" y1="304.70" x2="338.60" y2="304.70" stroke="#3a3a3a" stroke-width="1" />
<line x1="534.90" y1="304.70" x2="531.30" y2="304.70" stroke="#3a3a3a" stroke-width="1" />
<line x1="335.00" y1="298.10" x2="338.60" y2="298.10" stroke="#3a3a3a" stroke-width="1" />
<line x1="534.90" y1="298.10" x2="531.30" y2="298.10" stroke="#3a3a3a" stroke-width="1" />
<line x1="335.00" y1="291.50" x2="342.50" y2="291.50" stroke="#3a3a3a" stroke-width="1" />
<line x1="534.90" y1="291.50" x2="527.40" y2="291.50" stroke="#3a3a3a" stroke-width="1" />
<text x="328.90" y="295.90" font-size="11.5" text-anchor="end" font-weight="normal" fill="#000" >1</text>
<line x1="335.00" y1="284.90" x2="338.60" y2="284.90" stroke="#3a3a3a" stroke-width="1" />
<line x1="534.90" y1="284.90" x2="531.30" y2="284.90" stroke="#3a3a3a" stroke-width="1" />
<line x1="335.00" y1="278.30" x2="338.60" y2="278.30" stroke="#3a3a3a" stroke-width="1" />
<line x1="534.90" y1="278.30" x2="531.30" y2="278.30" stroke="#3a3a3a" stroke-width="1" />
<line x1="335.00" y1="271.70" x2="338.60" y2="271.70" stroke="#3a3a3a" stroke-width="1" />
<line x1="534.90" y1="271.70" x2="531.30" y2="271.70" stroke="#3a3a3a" stroke-width="1" />
<line x1="335.00" y1="265.10" x2="338.60" y2="265.10" stroke="#3a3a3a" stroke-width="1" />
<line x1="534.90" y1="265.10" x2="531.30" y2="265.10" stroke="#3a3a3a" stroke-width="1" />
<line x1="335.00" y1="258.50" x2="342.50" y2="258.50" stroke="#3a3a3a" stroke-width="1" />
<line x1="534.90" y1="258.50" x2="527.40" y2="258.50" stroke="#3a3a3a" stroke-width="1" />
<text x="328.90" y="262.90" font-size="11.5" text-anchor="end" font-weight="normal" fill="#000" >2</text>
<line x1="335.00" y1="251.90" x2="338.60" y2="251.90" stroke="#3a3a3a" stroke-width="1" />
<line x1="534.90" y1="251.90" x2="531.30" y2="251.90" stroke="#3a3a3a" stroke-width="1" />
<line x1="335.00" y1="245.30" x2="338.60" y2="245.30" stroke="#3a3a3a" stroke-width="1" />
<line x1="534.90" y1="245.30" x2="531.30" y2="245.30" stroke="#3a3a3a" stroke-width="1" />
<line x1="335.00" y1="238.70" x2="338.60" y2="238.70" stroke="#3a3a3a" stroke-width="1" />
<line x1="534.90" y1="238.70" x2="531.30" y2="238.70" stroke="#3a3a3a" stroke-width="1" />
<line x1="335.00" y1="232.10" x2="338.60" y2="232.10" stroke="#3a3a3a" stroke-width="1" />
<line x1="534.90" y1="232.10" x2="531.30" y2="232.10" stroke="#3a3a3a" stroke-width="1" />
<line x1="335.00" y1="225.50" x2="342.50" y2="225.50" stroke="#3a3a3a" stroke-width="1" />
<line x1="534.90" y1="225.50" x2="527.40" y2="225.50" stroke="#3a3a3a" stroke-width="1" />
<text x="328.90" y="229.90" font-size="11.5" text-anchor="end" font-weight="normal" fill="#000" >3</text>
<line x1="335.00" y1="218.90" x2="338.60" y2="218.90" stroke="#3a3a3a" stroke-width="1" />
<line x1="534.90" y1="218.90" x2="531.30" y2="218.90" stroke="#3a3a3a" stroke-width="1" />
<line x1="335.00" y1="212.30" x2="338.60" y2="212.30" stroke="#3a3a3a" stroke-width="1" />
<line x1="534.90" y1="212.30" x2="531.30" y2="212.30" stroke="#3a3a3a" stroke-width="1" />
<line x1="335.00" y1="205.70" x2="338.60" y2="205.70" stroke="#3a3a3a" stroke-width="1" />
<line x1="534.90" y1="205.70" x2="531.30" y2="205.70" stroke="#3a3a3a" stroke-width="1" />
<line x1="335.00" y1="199.10" x2="338.60" y2="199.10" stroke="#3a3a3a" stroke-width="1" />
<line x1="534.90" y1="199.10" x2="531.30" y2="199.10" stroke="#3a3a3a" stroke-width="1" />
<text x="328.90" y="196.90" font-size="11.5" text-anchor="end" font-weight="normal" fill="#000" >4</text>
<text x="434.30" y="350.10" font-size="11.25" text-anchor="middle" font-weight="normal" fill="#000" >Binding energy (eV)</text>
<text transform="translate(307.8,309.8) rotate(-90)" font-size="11.9" fill="#000">Intensity (x 10<tspan dy="-7.5" font-size="8">5</tspan><tspan dy="7.5"> a.u.)</tspan></text>
<text x="339.30" y="207.90" font-size="11.8" text-anchor="start" font-weight="bold" fill="#000" >(c)</text>
<path d="M335.30,308.96 L335.91,309.19 L336.52,308.98 L337.12,309.14 L337.73,309.11 L338.34,308.56 L338.95,308.46 L339.56,309.15 L340.17,308.58 L340.78,308.51 L341.38,309.15 L341.99,308.62 L342.60,308.90 L343.22,308.50 L343.83,308.56 L344.45,308.04 L345.07,308.39 L345.68,308.51 L346.30,308.12 L346.92,308.23 L347.53,308.09 L348.15,307.46 L348.77,308.00 L349.38,307.77 L350.00,307.42 L350.61,306.84 L351.23,307.25 L351.84,306.56 L352.45,306.45 L353.06,306.25 L353.67,305.77 L354.29,305.62 L354.90,304.81 L355.55,304.52 L356.20,303.55 L356.85,303.34 L357.50,302.64 L358.27,300.77 L359.03,299.64 L359.80,298.55 L360.60,297.07 L361.40,294.44 L362.05,291.86 L362.70,288.82 L363.80,284.01 L364.70,279.10 L365.35,274.22 L366.00,269.58 L366.65,264.63 L367.30,259.96 L368.00,250.16 L368.50,240.39 L368.90,230.72 L369.60,221.94 L370.40,217.75 L371.00,216.40 L371.60,217.92 L372.20,221.92 L373.20,230.76 L373.90,240.06 L374.70,250.19 L375.50,259.34 L376.15,264.85 L376.80,269.57 L378.00,279.01 L378.90,283.61 L379.80,289.32 L381.00,294.94 L381.70,296.28 L382.40,299.07 L383.13,299.89 L383.87,300.82 L384.60,302.11 L385.32,303.06 L386.04,303.68 L386.76,303.45 L387.48,304.48 L388.20,304.49 L388.83,305.25 L389.47,305.05 L390.10,305.69 L390.73,305.93 L391.37,305.65 L392.00,306.25 L392.61,305.65 L393.22,305.47 L393.82,305.96 L394.43,305.48 L395.04,305.65 L395.65,305.87 L396.26,306.07 L396.87,305.69 L397.48,305.61 L398.08,306.38 L398.69,305.91 L399.30,306.51 L399.92,306.46 L400.54,305.99 L401.15,306.06 L401.77,306.12 L402.39,306.23 L403.01,306.19 L403.62,306.15 L404.24,306.21 L404.86,306.50 L405.48,306.11 L406.09,306.04 L406.71,306.30 L407.33,305.86 L407.95,305.92 L408.56,306.53 L409.18,306.12 L409.80,306.14 L410.44,305.62 L411.07,305.94 L411.71,306.04 L412.35,305.49 L412.99,305.99 L413.62,305.96 L414.26,305.40 L414.90,305.86 L415.54,305.68 L416.18,305.82 L416.81,305.49 L417.45,305.76 L418.09,305.75 L418.73,305.06 L419.36,305.05 L420.00,305.56 L420.61,305.77 L421.21,305.08 L421.82,305.22 L422.42,305.29 L423.03,305.00 L423.64,304.99 L424.24,304.89 L424.85,304.89 L425.45,305.05 L426.06,304.74 L426.67,304.76 L427.27,305.06 L427.88,304.34 L428.48,304.78 L429.09,304.88 L429.70,304.45 L430.30,304.33 L430.91,304.80 L431.52,304.24 L432.12,304.15 L432.73,304.32 L433.33,304.51 L433.94,303.93 L434.55,304.08 L435.15,304.04 L435.76,304.44 L436.36,304.04 L436.97,304.36 L437.58,303.70 L438.18,303.80 L438.79,304.03 L439.39,304.19 L440.00,303.76 L440.61,303.49 L441.21,303.33 L441.82,303.64 L442.42,303.27 L443.03,303.76 L443.64,303.72 L444.24,303.07 L444.85,303.09 L445.45,303.50 L446.06,303.29 L446.67,303.38 L447.27,302.90 L447.88,302.64 L448.48,302.72 L449.09,303.11 L449.70,302.58 L450.30,302.58 L450.91,302.58 L451.52,302.52 L452.12,302.45 L452.73,302.84 L453.33,302.09 L453.94,301.89 L454.55,302.67 L455.15,302.55 L455.76,302.58 L456.36,302.02 L456.97,302.42 L457.58,302.34 L458.18,301.64 L458.79,302.05 L459.39,302.07 L460.00,301.85 L460.60,301.66 L461.20,301.40 L461.80,301.39 L462.40,301.23 L463.00,301.03 L463.60,301.44 L464.20,301.11 L464.80,301.52 L465.40,300.78 L466.00,301.49 L466.60,301.25 L467.20,301.40 L467.80,301.31 L468.40,301.26 L469.00,300.91 L469.60,300.35 L470.20,300.95 L470.80,300.38 L471.40,300.43 L472.00,300.70 L472.60,300.52 L473.22,300.37 L473.84,300.80 L474.46,300.45 L475.08,300.16 L475.70,300.03 L476.32,300.53 L476.94,300.13 L477.56,300.35 L478.18,299.92 L478.80,299.73 L479.42,299.98 L480.04,300.19 L480.66,299.55 L481.28,300.06 L481.90,300.13 L482.52,299.98 L483.14,299.94 L483.76,299.16 L484.38,299.67 L485.00,299.83 L485.68,298.88 L486.35,298.87 L487.02,298.65 L487.70,298.67 L488.38,298.37 L489.05,298.20 L489.72,298.26 L490.40,297.35 L491.02,296.78 L491.64,296.22 L492.26,295.60 L492.88,294.93 L493.50,295.13 L494.15,293.47 L494.80,291.23 L495.45,290.05 L496.10,288.33 L496.85,284.48 L497.60,280.67 L498.25,277.08 L498.90,273.18 L499.65,269.12 L500.40,265.12 L501.50,260.35 L502.40,258.26 L503.30,260.55 L504.00,263.14 L504.70,265.29 L505.50,268.87 L506.30,272.81 L507.05,276.84 L507.80,280.89 L508.43,283.62 L509.07,285.83 L509.70,288.77 L510.38,290.16 L511.05,291.54 L511.72,293.04 L512.40,294.70 L513.08,295.50 L513.76,295.87 L514.44,296.73 L515.12,297.14 L515.80,297.57 L516.40,298.12 L517.00,298.55 L517.60,298.27 L518.20,298.88 L518.80,299.16 L519.40,299.86 L520.00,300.19 L520.61,299.76 L521.22,300.31 L521.83,300.30 L522.44,299.90 L523.06,300.16 L523.67,299.93 L524.28,300.63 L524.89,300.57 L525.50,300.85 L526.12,300.80 L526.74,300.72 L527.36,300.81 L527.98,300.69 L528.60,300.31 L529.22,300.78 L529.84,300.29 L530.46,300.45 L531.08,301.05 L531.70,300.42 L532.32,300.50 L532.94,300.54 L533.56,301.28 L534.18,300.68 L534.80,300.57" fill="none" stroke="#06600f" stroke-width="2.1" stroke-linejoin="round" stroke-linecap="butt" />
<line x1="371.25" y1="213.40" x2="371.25" y2="321.40" stroke="#ff4d94" stroke-width="1.15" stroke-dasharray="4.1 5.35"/>
<text transform="translate(357.70,251.70) rotate(-90)" font-size="11.6" font-weight="normal" fill="#000">Zn 2p <tspan dy="6.9" font-size="9.3">3/2</tspan></text>
<text transform="translate(516.60,272.60) rotate(-90)" font-size="11.6" font-weight="bold" fill="#000">Zn 2p 1/2</text>
</svg>
</body></html>
